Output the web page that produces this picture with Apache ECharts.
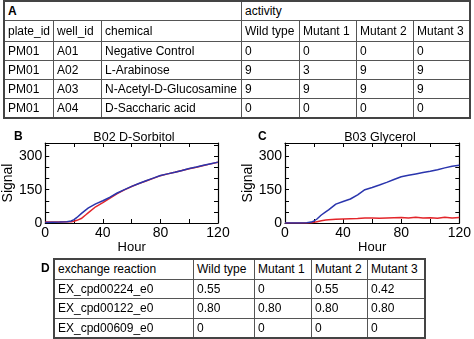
<!DOCTYPE html>
<html>
<head>
<meta charset="utf-8">
<script src="https://cdn.jsdelivr.net/npm/echarts@6/dist/echarts.min.js"></script>
<style>
  html, body { margin:0; padding:0; background:#fff; }
  body { width:474px; height:339px; position:relative; overflow:hidden; font-family:"Liberation Sans", Arial, Helvetica, sans-serif; }
  #chart { position:absolute; left:0; top:0; width:474px; height:339px; }
  .cell { position:absolute; box-sizing:border-box; border:1px solid #555; font-size:12px; color:#000; padding-left:3px; white-space:nowrap; overflow:hidden; background:#fff; }
  .frame { position:absolute; box-sizing:border-box; border:2px solid #444; pointer-events:none; }
  .letter { position:absolute; font-weight:bold; font-size:12px; color:#000; }
</style>
</head>
<body>
<div id="chart"></div>
<div id="tables"></div>
<script>
// ---------- data ----------
const strains = ['Wild type', 'Mutant 1', 'Mutant 2', 'Mutant 3'];
const tableAHeader = ['plate_id', 'well_id', 'chemical'];
const plateIds = ['PM01', 'PM01', 'PM01', 'PM01'];
const wellIds = ['A01', 'A02', 'A03', 'A04'];
const chemicals = ['Negative Control', 'L-Arabinose', 'N-Acetyl-D-Glucosamine', 'D-Saccharic acid'];
const activity = [[0, 0, 0, 0], [9, 3, 9, 9], [9, 9, 9, 9], [0, 0, 0, 0]];

const tableDHeader = 'exchange reaction';
const reactions = ['EX_cpd00224_e0', 'EX_cpd00122_e0', 'EX_cpd00609_e0'];
const fluxes = [['0.55', '0', '0.55', '0.42'], ['0.80', '0.80', '0.80', '0.80'], ['0', '0', '0', '0']];

const hours = [0, 5, 10, 15, 18, 20, 22, 25, 28, 30, 35, 40, 45, 50, 55, 60, 65, 70, 75, 80, 85, 90, 95, 100, 105, 110, 115, 120];
const sorbitolBlue = [2, 3, 4, 6, 9, 15, 25, 42, 58, 68, 86, 100, 116, 135, 150, 165, 178, 190, 202, 214, 221, 228, 236, 245, 252, 260, 267, 274];
const sorbitolRed  = [4, 4, 5, 6, 6, 8, 12, 20, 36, 47, 73, 92, 112, 132, 149, 164, 177, 189, 201, 213, 221, 228, 236, 244, 251, 259, 266, 273];
const glycerolBlue = [0, 0, 0, 1, 4, 9, 18, 36, 50, 59, 85, 97, 108, 127, 150, 160, 171, 183, 196, 208, 215, 221, 227, 233, 240, 248, 255, 260];
const glycerolRed  = [0, 0, 0, 0, 1, 3, 6, 10, 13, 15, 17, 18, 19, 20, 22, 22, 21, 23, 24, 25, 23, 26, 22, 24, 21, 26, 23, 25];

const titleB = 'B02 D-Sorbitol';
const titleC = 'B03 Glycerol';

// ---------- tables (HTML) ----------
const host = document.getElementById('tables');
function cell(x, y, w, h, text, extra) {
  const d = document.createElement('div');
  d.className = 'cell';
  d.style.left = x + 'px'; d.style.top = y + 'px';
  d.style.width = (w + 1) + 'px'; d.style.height = (h + 1) + 'px';
  d.style.lineHeight = (h - 1) + 'px';
  d.textContent = text;
  if (extra) Object.assign(d.style, extra);
  host.appendChild(d);
}
function frame(x, y, w, h) {
  const d = document.createElement('div');
  d.className = 'frame';
  d.style.left = x + 'px'; d.style.top = y + 'px';
  d.style.width = w + 'px'; d.style.height = h + 'px';
  host.appendChild(d);
}
function letter(x, y, t) {
  const d = document.createElement('div');
  d.className = 'letter';
  d.style.left = x + 'px'; d.style.top = y + 'px';
  d.textContent = t;
  host.appendChild(d);
}

// Table A
(function () {
  const xs = [4, 53, 101, 241, 299, 356, 413, 469];
  const ys = [1, 20, 41, 60, 79, 98, 117];
  cell(xs[0], ys[0], xs[3] - xs[0], ys[1] - ys[0], 'A', { fontWeight: 'bold' });
  cell(xs[3], ys[0], xs[7] - xs[3], ys[1] - ys[0], 'activity');
  const hdr = tableAHeader.concat(strains);
  hdr.forEach((t, i) => cell(xs[i], ys[1], xs[i + 1] - xs[i], ys[2] - ys[1], t));
  for (let r = 0; r < chemicals.length; r++) {
    const row = [plateIds[r], wellIds[r], chemicals[r]].concat(activity[r].map(String));
    row.forEach((t, i) => cell(xs[i], ys[r + 2], xs[i + 1] - xs[i], ys[r + 3] - ys[r + 2], t));
  }
  frame(xs[0] - 1, 0, xs[7] - xs[0] + 3, ys[6] + 2);
})();

// Table D
(function () {
  const xs = [54, 193, 254, 311, 367, 424];
  const ys = [259, 279, 298, 318, 337];
  const hdr = [tableDHeader].concat(strains);
  hdr.forEach((t, i) => cell(xs[i], ys[0], xs[i + 1] - xs[i], ys[1] - ys[0], t));
  for (let r = 0; r < reactions.length; r++) {
    const row = [reactions[r]].concat(fluxes[r]);
    row.forEach((t, i) => cell(xs[i], ys[r + 1], xs[i + 1] - xs[i], ys[r + 2] - ys[r + 1], t));
  }
  frame(xs[0] - 1, ys[0] - 1, xs[5] - xs[0] + 3, ys[4] - ys[0] + 3);
  letter(41, 261, 'D');
})();

// ---------- charts ----------
const chart = echarts.init(document.getElementById('chart'), null, { renderer: 'canvas' });
const FONT = '"Liberation Sans", Arial, Helvetica, sans-serif';
const axisLine = { show: true, onZero: false, lineStyle: { color: '#000', width: 1.2 } };
const tickIn = { show: true, inside: true, length: 4, lineStyle: { color: '#000', width: 1 } };

function xAxes(gi) {
  return [
    { type: 'value', gridIndex: gi, position: 'bottom', min: 0, max: 120, interval: 20,
      name: 'Hour', nameLocation: 'middle', nameGap: 17,
      nameTextStyle: { fontSize: 13, color: '#000', fontFamily: FONT },
      axisLine, axisTick: tickIn, splitLine: { show: false },
      axisLabel: { fontSize: 14, color: '#000', fontFamily: FONT, margin: 3,
        formatter: v => (v % 40 === 0 ? String(v) : '') } },
    { type: 'value', gridIndex: gi, position: 'top', min: 0, max: 120, interval: 20,
      axisLine, axisTick: tickIn, splitLine: { show: false }, axisLabel: { show: false } }
  ];
}
function yAxes(gi) {
  return [
    { type: 'value', gridIndex: gi, position: 'left', min: 0, max: 360, interval: 50,
      name: 'Signal', nameLocation: 'middle', nameGap: 23, nameRotate: 90,
      nameTextStyle: { fontSize: 14, color: '#000', fontFamily: FONT },
      axisLine, axisTick: tickIn, splitLine: { show: false },
      axisLabel: { fontSize: 14, color: '#000', fontFamily: FONT, margin: 3,
        formatter: v => (v % 150 === 0 ? String(v) : '') } },
    { type: 'value', gridIndex: gi, position: 'right', min: 0, max: 360, interval: 50,
      axisLine, axisTick: tickIn, splitLine: { show: false }, axisLabel: { show: false } }
  ];
}
const pair = (xs, ys) => xs.map((h, i) => [h, ys[i]]);
const RED = '#e3262b', BLUE = '#2a35ad';
function line(data, color, gi) {
  return { type: 'line', xAxisIndex: gi * 2, yAxisIndex: gi * 2, data, showSymbol: false,
    lineStyle: { color, width: 1.5 }, itemStyle: { color }, animation: false, z: color === BLUE ? 3 : 2 };
}

chart.setOption({
  animation: false,
  textStyle: { fontFamily: FONT },
  title: [
    { text: titleB, left: 129, top: 126, textAlign: 'center', textStyle: { fontSize: 12.5, fontWeight: 'normal', color: '#000', fontFamily: FONT } },
    { text: titleC, left: 375, top: 126, textAlign: 'center', textStyle: { fontSize: 12.5, fontWeight: 'normal', color: '#000', fontFamily: FONT } },
    { text: 'B', left: 9, top: 126, textStyle: { fontSize: 12, fontWeight: 'bold', color: '#000', fontFamily: FONT } },
    { text: 'C', left: 253, top: 126, textStyle: { fontSize: 12, fontWeight: 'bold', color: '#000', fontFamily: FONT } }
  ],
  grid: [
    { left: 40, top: 143, width: 178, height: 80, containLabel: false },
    { left: 285, top: 143, width: 179, height: 80, containLabel: false }
  ],
  xAxis: xAxes(0).concat(xAxes(1)),
  yAxis: yAxes(0).concat(yAxes(1)),
  series: [
    line(pair(hours, sorbitolRed), RED, 0),
    line(pair(hours, sorbitolBlue), BLUE, 0),
    line(pair(hours, glycerolRed), RED, 1),
    line(pair(hours, glycerolBlue), BLUE, 1)
  ]
});
</script>
</body>
</html>
